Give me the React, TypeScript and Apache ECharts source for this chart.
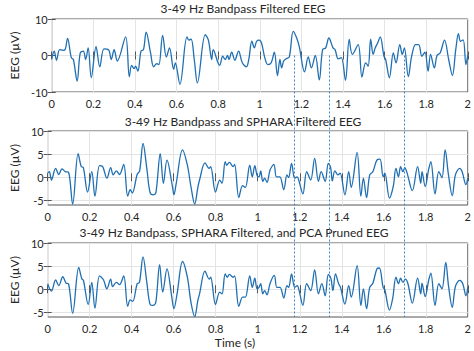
import React, { useEffect, useRef } from 'react';
import * as echarts from 'echarts';

const TITLES = [
  '3-49 Hz Bandpass Filtered EEG',
  '3-49 Hz Bandpass and SPHARA Filtered EEG',
  '3-49 Hz Bandpass, SPHARA Filtered, and PCA Pruned EEG',
];
const X_LABEL = 'Time (s)';
const Y_LABEL = 'EEG (µV)';
const X_MIN = 0;
const X_MAX = 2;
const X_INTERVAL = 0.2;
const Y_LIMITS: [number, number][] = [[-10, 10], [-6, 10], [-6, 10]];
const Y_TICKS: number[][] = [[-10, 0, 10], [-5, 0, 5, 10], [-5, 0, 5, 10]];
const EVENT_TIMES = [1.163, 1.335, 1.691];

// time (s), amplitude (µV)
const bandpassEEG: [number, number][] = [
  [0, -0.9], [0.012, 1.2], [0.023, -1.3], [0.038, 1.6], [0.055, 1.4], [0.065, 1.7], [0.076, 4.7],
  [0.094, -0.6], [0.104, -1.1], [0.122, -7], [0.137, 0.7], [0.152, 1.2], [0.163, -1.1], [0.175, 2.1],
  [0.19, -6.1], [0.213, 2.4], [0.231, -3.1], [0.251, 1.8], [0.274, 1.5], [0.286, -1.1], [0.3, 1.6],
  [0.315, -1.5], [0.355, 5.1], [0.373, -5.8], [0.384, -2.7], [0.396, -3.6], [0.403, -2.9], [0.414, -4.3],
  [0.429, 1.2], [0.441, 1.6], [0.454, 6.4], [0.475, 0.7], [0.49, -3.1], [0.505, -2.2], [0.515, -2.5],
  [0.533, 5.5], [0.551, -0.4], [0.566, 2.1], [0.586, -3.8], [0.594, -2], [0.616, -7.9], [0.65, 5.1],
  [0.659, 4.2], [0.67, 4.5], [0.685, -1.1], [0.7, -7.5], [0.738, 5.7], [0.753, 4.2], [0.769, -1.1],
  [0.776, 1.6], [0.799, -2], [0.807, -2.7], [0.822, -0.2], [0.834, -1.1], [0.845, 0], [0.852, -1.1],
  [0.865, 0.9], [0.88, -1.3], [0.898, 1.2], [0.916, -2], [0.936, -3.1], [0.947, -1.1], [0.962, 3.9],
  [0.974, 2.1], [0.985, 3.9], [0.997, 4.2], [1.009, 3.3], [1.024, -0.6], [1.039, -2.5], [1.055, -2],
  [1.07, 0.9], [1.085, -5.5], [1.097, -1.1], [1.105, -3.4], [1.115, -1.5], [1.127, -0.9], [1.142, -0.4],
  [1.161, 6.6], [1.18, 4.4], [1.191, 2.1], [1.215, -4.5], [1.233, -0.4], [1.248, -3.4], [1.267, 0],
  [1.286, -6.7], [1.302, 1.6], [1.317, 2.1], [1.332, 4.8], [1.352, 2.1], [1.362, 1.6], [1.377, -0.9],
  [1.392, -0.6], [1.412, -6.8], [1.43, 4.4], [1.445, 0.3], [1.473, 3], [1.491, -5.9], [1.509, -2],
  [1.521, -2.9], [1.533, 4.5], [1.545, 0.3], [1.555, 2.1], [1.567, 3.5], [1.579, 5.1], [1.597, -0.2],
  [1.605, -1.1], [1.623, -6.1], [1.642, 0.7], [1.655, -2], [1.673, 3], [1.685, 0.3], [1.695, 2.1],
  [1.714, -5.8], [1.73, -0.2], [1.749, 3], [1.764, 3], [1.779, -0.2], [1.794, 0.9], [1.809, -4.3],
  [1.821, 0.3], [1.839, -3.4], [1.852, 0], [1.867, 0.7], [1.888, 4.2], [1.908, -1.1], [1.926, -5.5],
  [1.942, 1.6], [1.955, 6], [1.965, 3.9], [1.978, 4.3], [1.991, -2.5], [2, 0.2],
];

const spharaEEG: [number, number][] = [
  [0, 0.9], [0.008, 1.2], [0.018, -0.6], [0.038, 1.9], [0.053, 0.6], [0.068, 1.8], [0.084, 1.2],
  [0.099, 1.1], [0.119, -5.8], [0.145, 5.1], [0.16, 2.3], [0.17, 2.1], [0.19, -3.2], [0.21, 1.2],
  [0.225, -4.1], [0.247, 2.5], [0.262, 2.3], [0.282, -0.2], [0.3, 2.1], [0.312, 0.5], [0.327, 1.4],
  [0.342, 0.6], [0.362, 2.8], [0.381, -4.1], [0.393, -2.7], [0.403, -3.4], [0.426, 0.6], [0.438, 1.4],
  [0.454, 7.3], [0.472, 1.9], [0.487, -3.2], [0.502, -3.8], [0.515, -3.4], [0.536, 5.1], [0.551, -1.3],
  [0.568, 3.7], [0.594, -2], [0.601, -3.8], [0.612, -1.3], [0.642, 5.9], [0.665, 2.6], [0.682, -2],
  [0.7, -5.8], [0.715, -2.2], [0.723, -0.6], [0.749, 3.1], [0.769, 1.9], [0.776, 2.3], [0.799, -3.2],
  [0.819, -0.6], [0.83, -1.3], [0.845, 3.4], [0.852, 2.6], [0.865, 3.2], [0.883, 2.3], [0.89, 2.8],
  [0.91, -4.4], [0.928, -1.8], [0.941, -2.2], [0.962, 2.6], [0.974, 0.1], [0.986, 2.5], [0.997, 0.4],
  [1.006, 0.1], [1.014, 1.4], [1.024, -0.9], [1.033, -0.2], [1.044, -1.1], [1.059, 1.6], [1.077, 2.8],
  [1.089, 0.1], [1.105, 0.1], [1.124, -2.7], [1.139, 0.5], [1.147, -0.1], [1.161, 3], [1.176, -0.2],
  [1.188, 0.1], [1.195, -0.6], [1.215, -3.6], [1.233, 1.2], [1.252, -0.6], [1.271, 4.1], [1.289, -0.9],
  [1.302, 1.2], [1.321, -0.9], [1.336, 3], [1.347, 2.1], [1.355, -0.8], [1.367, 1.4], [1.382, 0.5],
  [1.392, 0.9], [1.415, -3.8], [1.433, 1.2], [1.445, -2.2], [1.473, 5.4], [1.491, -4.1], [1.503, -0.2],
  [1.518, -4.4], [1.533, 0.5], [1.548, 1.2], [1.567, 3.7], [1.582, 3.9], [1.597, 0.1], [1.605, 0.9],
  [1.627, -4.5], [1.645, -2], [1.658, 1.9], [1.67, 0.1], [1.68, 2.3], [1.691, 1.2], [1.7, 2.1],
  [1.711, 0.9], [1.736, -2.9], [1.761, 2.3], [1.776, -1.3], [1.782, 1.2], [1.797, -2], [1.814, 1.8],
  [1.824, 3.4], [1.844, -3.6], [1.862, 1.2], [1.877, -0.1], [1.892, 5.9], [1.908, 0.5], [1.926, -4],
  [1.941, 0.5], [1.961, 1.9], [1.973, 1.2], [1.991, -1.6], [2, -0.1],
];

const pcaEEG: [number, number][] = [
  [0, 1.2], [0.018, -0.4], [0.038, 2], [0.053, 0.8], [0.072, 2.7], [0.088, 1.3], [0.099, 1.2],
  [0.119, -5.2], [0.148, 4.7], [0.163, 2.2], [0.17, 2], [0.193, -3.3], [0.21, 1.5], [0.225, -4.1],
  [0.247, 2.9], [0.266, 2], [0.282, 0.1], [0.3, 2.2], [0.309, 0.6], [0.327, 1.5], [0.342, 1],
  [0.362, 2.9], [0.381, -3.7], [0.393, -2.3], [0.405, -2.6], [0.426, 1.2], [0.437, 1.5], [0.454, 7],
  [0.472, 1.5], [0.487, -3.2], [0.502, -3.5], [0.515, -2.8], [0.533, 5.3], [0.548, -0.6], [0.568, 4.4],
  [0.591, -1.7], [0.601, -4.2], [0.616, -1], [0.642, 6], [0.665, 2.6], [0.682, -2.8], [0.7, -5.9],
  [0.715, -2.4], [0.723, -1], [0.749, 3.9], [0.769, 2.2], [0.776, 2.6], [0.799, -3.3], [0.819, -0.6],
  [0.83, -1], [0.845, 3.3], [0.855, 2.6], [0.865, 3.2], [0.883, 2.6], [0.89, 2.9], [0.91, -3.7],
  [0.928, -1.7], [0.941, -1.7], [0.962, 2.9], [0.974, 0.4], [0.986, 2.4], [0.997, 0.1], [1.006, 0.4],
  [1.014, 1.2], [1.024, -1], [1.033, -0.3], [1.044, -1.2], [1.059, 1.3], [1.079, 3], [1.091, 0.4],
  [1.106, 0.4], [1.124, -1.9], [1.139, 0.8], [1.147, 0.4], [1.161, 3.3], [1.176, 0.4], [1.188, 0.8],
  [1.197, -0.3], [1.215, -3.5], [1.233, 1.2], [1.252, -0.3], [1.271, 4.2], [1.289, -1], [1.305, 1.2],
  [1.321, -1.4], [1.336, 3.2], [1.348, 2.4], [1.358, -0.3], [1.37, 3.3], [1.385, 1.2], [1.394, 0.4],
  [1.415, -3.2], [1.433, 0.8], [1.445, -1.7], [1.473, 5.1], [1.491, -3.5], [1.503, 0.1], [1.518, -4.2],
  [1.533, 0.4], [1.548, 1.3], [1.567, 4.4], [1.579, 4.6], [1.597, 0.4], [1.605, -0.1], [1.627, -4.5],
  [1.642, -2.1], [1.658, 2.6], [1.67, 1.2], [1.68, 2.4], [1.691, 1.5], [1.703, 2.2], [1.715, 1.2],
  [1.736, -3], [1.761, 2.4], [1.776, -1], [1.782, 1.3], [1.797, -1.6], [1.814, 2], [1.824, 3.5],
  [1.844, -3.5], [1.862, 1.2], [1.877, 0.1], [1.895, 5.8], [1.908, 0.8], [1.926, -3.9], [1.941, 0.6],
  [1.961, 1.9], [1.976, 1.2], [1.991, -1.4], [2, 0.4],
];

const TRACES = [bandpassEEG, spharaEEG, pcaEEG];

const FONT = 'Lato, "Open Sans", sans-serif';
const TEXT_COLOR = '#262626';
const AXIS_COLOR = '#555555';
const GRID_COLOR = '#e4e4e4';
const TRACE_COLOR = '#1f6fb2';
const EVENT_COLOR = '#3b82c4';

export default function App() {
  const ref = useRef<HTMLDivElement>(null);

  useEffect(() => {
    if (!ref.current) return;
    const chart = echarts.init(ref.current, null, { renderer: 'svg' });

    const gridTops = [19, 131, 243];
    const gridHeights = [73, 74, 74];
    const grids = gridTops.map((top, i) => ({
      left: 31,
      top,
      width: 438,
      height: gridHeights[i],
      show: true,
      borderColor: AXIS_COLOR,
      borderWidth: 1,
      backgroundColor: '#ffffff',
    }));

    const tickStyle = { show: true, inside: true, length: 4, lineStyle: { color: AXIS_COLOR, width: 1 } };

    const xBottom = TRACES.map((_, i) => ({
      type: 'value',
      gridIndex: i,
      position: 'bottom',
      min: X_MIN,
      max: X_MAX,
      interval: X_INTERVAL,
      axisLine: { show: false },
      axisTick: tickStyle,
      axisLabel: { fontSize: 11, color: TEXT_COLOR, fontFamily: FONT, margin: 6 },
      splitLine: { show: true, lineStyle: { color: GRID_COLOR, width: 1 } },
    }));
    const xTop = TRACES.map((_, i) => ({
      type: 'value',
      gridIndex: i,
      position: 'top',
      min: X_MIN,
      max: X_MAX,
      interval: X_INTERVAL,
      axisLine: { show: false },
      axisTick: tickStyle,
      axisLabel: { show: false },
      splitLine: { show: false },
    }));

    const yLeft = TRACES.map((_, i) => ({
      type: 'value',
      gridIndex: i,
      position: 'left',
      min: Y_LIMITS[i][0],
      max: Y_LIMITS[i][1],
      name: Y_LABEL,
      nameLocation: 'middle',
      nameGap: 17,
      nameTextStyle: { fontSize: 12, color: TEXT_COLOR, fontFamily: FONT },
      axisLine: { show: false },
      axisTick: { ...tickStyle, customValues: Y_TICKS[i] },
      axisLabel: { fontSize: 11, color: TEXT_COLOR, fontFamily: FONT, margin: 4, customValues: Y_TICKS[i] },
      splitLine: { show: true, lineStyle: { color: GRID_COLOR, width: 1 } },
    }));
    const yRight = TRACES.map((_, i) => ({
      type: 'value',
      gridIndex: i,
      position: 'right',
      min: Y_LIMITS[i][0],
      max: Y_LIMITS[i][1],
      axisLine: { show: false },
      axisTick: { ...tickStyle, customValues: Y_TICKS[i] },
      axisLabel: { show: false, customValues: Y_TICKS[i] },
      splitLine: { show: false },
    }));

    const series = TRACES.map((data, i) => ({
      type: 'line',
      xAxisIndex: i,
      yAxisIndex: i,
      data,
      showSymbol: false,
      smooth: 0.35,
      clip: true,
      lineStyle: { color: TRACE_COLOR, width: 1.3 },
      itemStyle: { color: TRACE_COLOR },
      z: 3,
    }));

    chart.setOption({
      animation: false,
      textStyle: { fontFamily: FONT },
      grid: grids,
      xAxis: [...xBottom, ...xTop],
      yAxis: [...yLeft, ...yRight],
      series,
    } as any);

    const titlePos = [
      [243, 8],
      [243, 121],
      [234, 232],
    ];
    const texts: any[] = TITLES.map((t, i) => ({
      type: 'text',
      x: titlePos[i][0],
      y: titlePos[i][1],
      style: {
        text: t,
        fontSize: 12,
        fontFamily: FONT,
        fill: TEXT_COLOR,
        textAlign: 'center',
        textVerticalAlign: 'middle',
      },
    }));
    texts.push({
      type: 'text',
      x: 235,
      y: 342,
      style: {
        text: X_LABEL,
        fontSize: 12,
        fontFamily: FONT,
        fill: TEXT_COLOR,
        textAlign: 'center',
        textVerticalAlign: 'middle',
      },
    });

    const yStart = chart.convertToPixel({ yAxisIndex: 0 } as any, 0) as number;
    const yEnd = chart.convertToPixel({ yAxisIndex: 2 } as any, Y_LIMITS[2][0]) as number;
    const lines = EVENT_TIMES.map((t) => {
      const x = Math.round(chart.convertToPixel({ xAxisIndex: 0 } as any, t) as number) + 0.5;
      return {
        type: 'line',
        shape: { x1: x, y1: yStart, x2: x, y2: yEnd },
        style: { stroke: EVENT_COLOR, lineWidth: 1, lineDash: [2, 2], fill: null },
        z: 10,
      };
    });

    chart.setOption({ graphic: [...texts, ...lines] } as any);

    return () => chart.dispose();
  }, []);

  return (
    <div
      ref={ref}
      style={{ position: 'fixed', left: 0, top: 0, width: 474, height: 351, background: '#fff' }}
    />
  );
}
